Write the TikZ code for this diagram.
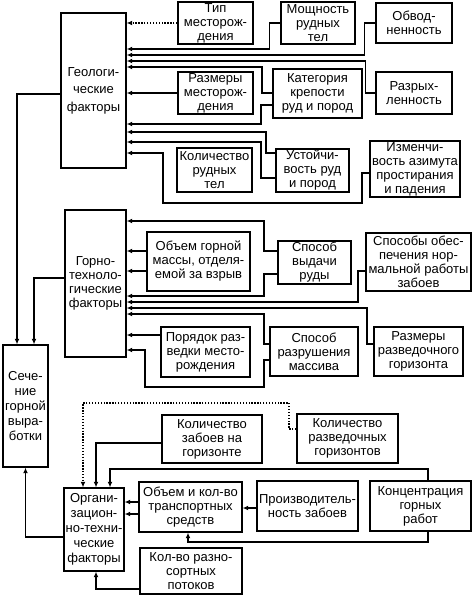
\documentclass[tikz,border=0pt]{standalone}
\usepackage{fontspec}
\setmainfont{Liberation Sans}
\usetikzlibrary{arrows.meta}
\begin{document}
\begin{tikzpicture}[x=1pt,y=-1pt,
  box/.style={draw,line width=1.4pt,align=center,inner sep=0pt,
    font=\fontsize{13}{14}\selectfont},
  arr/.style={line width=1.1pt,-{Latex[length=5.5pt,width=5pt]}},
  dots/.style={arr,dash pattern=on 1.3pt off 1.6pt},
  ln/.style={line width=1pt}]
\useasboundingbox (0,0) rectangle (474,596);
% geological
\node[box,minimum width=65pt,minimum height=155pt,font=\fontsize{13}{17.5}\selectfont] (G) at (93.5,90.5) {Геологи-\\ческие\\факторы};
\node[box,minimum width=75pt,minimum height=42pt] (tip) at (215.5,23) {Тип\\месторож-\\дения};
\node[box,minimum width=74pt,minimum height=42pt] (mosch) at (318,23) {Мощность\\рудных\\тел};
\node[box,minimum width=76pt,minimum height=40pt] (obvod) at (414,23) {Обвод-\\ненность};
\node[box,minimum width=75pt,minimum height=42pt] (razm) at (215.5,93) {Размеры\\месторож-\\дения};
\node[box,minimum width=89pt,minimum height=49pt] (kateg) at (317.5,93.5) {Категория\\крепости\\руд и пород};
\node[box,minimum width=76pt,minimum height=42pt] (razryh) at (414,93) {Разрых-\\ленность};
\node[box,minimum width=75pt,minimum height=44pt] (kolrud) at (214.5,170) {Количество\\рудных\\тел};
\node[box,minimum width=73pt,minimum height=43pt] (ustoy) at (312.5,170.5) {Устойчи-\\вость руд\\и пород};
\node[box,minimum width=90pt,minimum height=56pt] (izmen) at (415,169) {Изменчи-\\вость азимута\\простирания\\и падения};
% mining-technological
\node[box,minimum width=61pt,minimum height=147pt] (GT) at (95.5,283.5) {Горно-\\техноло-\\гические\\факторы};
\node[box,minimum width=103pt,minimum height=59pt] (obgorn) at (198.5,261.5) {Объем горной\\массы, отделя-\\емой за взрыв};
\node[box,minimum width=73pt,minimum height=43pt] (sposvyd) at (314.5,262.5) {Способ\\выдачи\\руды};
\node[box,minimum width=105pt,minimum height=58pt] (sposobesp) at (418.5,262) {Способы обес-\\печения нор-\\мальной работы\\забоев};
\node[box,minimum width=89pt,minimum height=50pt] (poryad) at (205.5,352) {Порядок раз-\\ведки место-\\рождения};
\node[box,minimum width=88pt,minimum height=49pt] (sposrazr) at (314,351.5) {Способ\\разрушения\\массива};
\node[box,minimum width=89pt,minimum height=49pt] (razmrazv) at (418.5,351.5) {Размеры\\разведочного\\горизонта};
% section
\node[box,minimum width=45pt,minimum height=122pt,font=\fontsize{13}{15}\selectfont] (sech) at (25.5,406) {Сече-\\ние\\горной\\выра-\\ботки};
% organisational
\node[box,minimum width=60pt,minimum height=83pt,font=\fontsize{13}{15}\selectfont] (OT) at (94,529.5) {Органи-\\зацион-\\но-техни-\\ческие\\факторы};
\node[box,minimum width=100pt,minimum height=48pt] (kolzab) at (212,439) {Количество\\забоев на\\горизонте};
\node[box,minimum width=101pt,minimum height=49pt] (kolgor) at (347.5,438.5) {Количество\\разведочных\\горизонтов};
\node[box,minimum width=103pt,minimum height=50pt] (obtrans) at (190.5,507) {Объем и кол-во\\транспортных\\средств};
\node[box,minimum width=101pt,minimum height=50pt] (proizv) at (307.5,506) {Производитель-\\ность забоев};
\node[box,minimum width=101pt,minimum height=50pt] (konc) at (420.5,506) {Концентрация\\горных\\работ};
\node[box,minimum width=102pt,minimum height=46pt] (kolpot) at (191,571) {Кол-во разно-\\сортных\\потоков};
% connectors to G
\draw[dots] (tip.west) -- (G.east|-0,23);
\draw[arr] (mosch.west) -- ++(-11,0) |- (G.east|-0,49);
\draw[arr] (obvod.west) -- ++(-11,0) |- (G.east|-0,55);
\draw[arr] (razryh.west) -- ++(-10,0) |- (G.east|-0,61);
\draw[arr] (kateg.west|-0,93) -- (262,93) |- (G.east|-0,67);
\draw[arr] (razm.west) -- (G.east|-0,93);
\draw[arr] (kateg.west|-0,105) -- (261,105) |- (G.east|-0,124);
\draw[arr] (ustoy.west|-0,153) -- (266,153) |- (G.east|-0,132);
\draw[arr] (ustoy.west|-0,178) -- (261,178) |- (G.east|-0,142);
\draw[arr] (izmen.west|-0,173) -- (362,173) -- (362,203) -- (163,203) |- (G.east|-0,153);
% connectors to GT
\draw[arr] (sposvyd.west|-0,251) -- (264,251) |- (GT.east|-0,221);
\draw[arr] (obgorn.west|-0,251) -- (GT.east|-0,251);
\draw[arr] (obgorn.west|-0,271) -- (GT.east|-0,271);
\draw[arr] (sposvyd.west|-0,274) -- (264,274) |- (GT.east|-0,296);
\draw[arr] (sposobesp.west|-0,271) -- (358,271) |- (GT.east|-0,302);
\draw[arr] (razmrazv.west|-0,344) -- (367,344) |- (GT.east|-0,308);
\draw[arr] (sposrazr.west|-0,344) -- (264,344) |- (GT.east|-0,314);
\draw[arr] (poryad.west|-0,335) -- (GT.east|-0,335);
\draw[arr] (sposrazr.west|-0,360) -- (264,360) -- (264,387) -- (145,387) |- (GT.east|-0,350);
% to section
\draw[arr] (G.west|-0,94) -| (sech.north-|17,0);
\draw[arr] (GT.west|-0,278) -| (sech.north-|34,0);
\draw[arr] (OT.west|-0,537) -| (sech.south);
% to OT
\draw[dots] (kolgor.west|-0,429) -- (289,429) -- (289,403) -| (OT.north-|83,0);
\draw[arr] (kolzab.west|-0,443) -| (OT.north-|96,0);
\draw[arr] (konc.north-|428,0) -- (428,469) -| (OT.north-|110,0);
\draw[arr] (konc.south-|428,0) -- (428,542) -| (obtrans.south-|188,0);
\draw[arr] (proizv.west|-0,508) -- (obtrans.east|-0,508);
\draw[arr] (obtrans.west|-0,502) -- (OT.east|-0,502);
\draw[arr] (obtrans.west|-0,514) -- (OT.east|-0,514);
\draw[arr] (kolpot.west|-0,589) -| (OT.south-|96,0);
\end{tikzpicture}
\end{document}
